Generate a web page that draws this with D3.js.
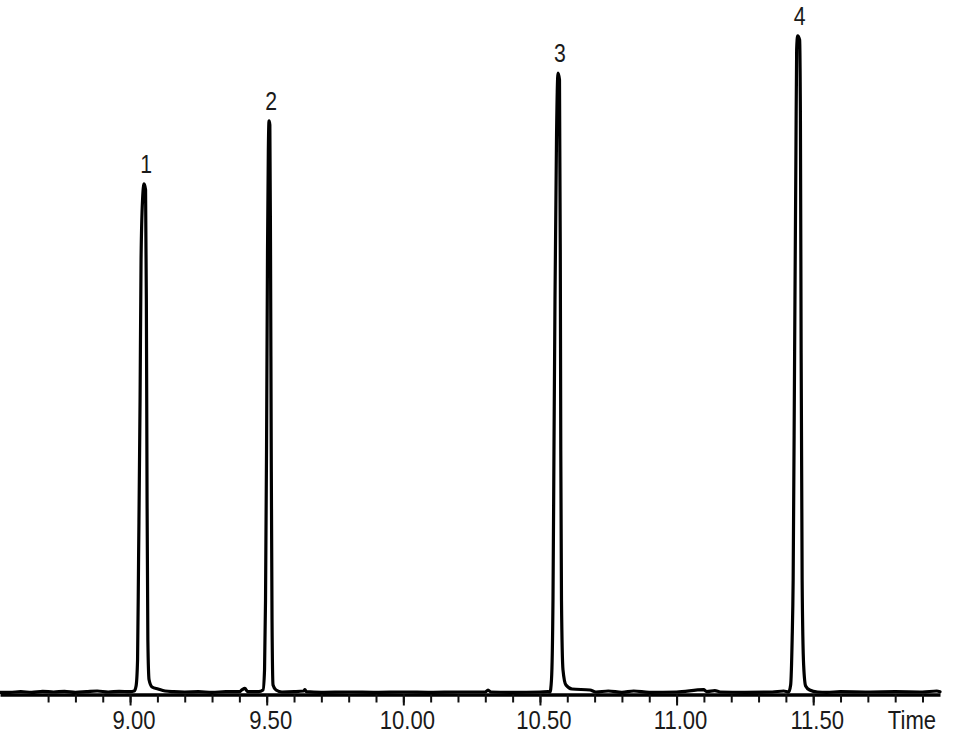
<!DOCTYPE html>
<html>
<head>
<meta charset="utf-8">
<script src="https://cdn.jsdelivr.net/npm/d3@7"></script>
<style>
  html, body { margin: 0; padding: 0; background: #fff; }
  svg { display: block; }
  text { font-family: "Liberation Sans", Arial, sans-serif; fill: #1a1a1a; }
</style>
</head>
<body>
<svg id="chart" width="974" height="737"></svg>
<script>
// ---- Data ----
const traceTime = [
  8.524, 8.56, 8.60, 8.64, 8.68, 8.72, 8.76, 8.80, 8.84, 8.88, 8.92, 8.96, 9.00, 9.015,
  9.022, 9.0274, 9.0311, 9.0366, 9.0402, 9.0457, 9.0512, 9.0567, 9.0596, 9.0622, 9.0651, 9.0695, 9.0805, 9.1024, 9.128,
  9.16, 9.20, 9.25, 9.30, 9.35, 9.40, 9.41, 9.42, 9.43, 9.47,
  9.4866, 9.4921, 9.4957, 9.4994, 9.5030, 9.506, 9.5086, 9.5115, 9.5140, 9.5166, 9.5195, 9.5232, 9.534, 9.556,
  9.60, 9.635, 9.64, 9.645, 9.70, 9.80, 9.90, 10.00, 10.10, 10.20, 10.30, 10.31, 10.32, 10.40, 10.50, 10.53,
  10.5367, 10.5422, 10.5477, 10.5513, 10.555, 10.5605, 10.566, 10.5715, 10.5744, 10.5762, 10.5788, 10.5843, 10.5952, 10.6172, 10.683, 10.705,
  10.75, 10.80, 10.843, 10.90, 11.00, 11.099, 11.11, 11.14, 11.16, 11.25, 11.35, 11.392,
  11.4101, 11.4174, 11.4229, 11.4266, 11.432, 11.4368, 11.4394, 11.443, 11.4503, 11.4532, 11.4558, 11.4595, 11.465, 11.4723, 11.487, 11.5163,
  11.55, 11.60, 11.70, 11.80, 11.90, 11.952, 11.964
];
const traceSignal = [
  0.1, 0.1, 0.2, 0.1, 0.25, 0.15, 0.25, 0.1, 0.2, 0.3, 0.15, 0.25, 0.2, 0.3,
  1.06, 4.98, 20.1, 44.2, 65.3, 74.4, 76.8, 75.9, 59.3, 29.1, 8.0, 2.0, 0.9, 0.6, 0.3,
  0.2, 0.15, 0.2, 0.1, 0.2, 0.2, 0.5, 0.7, 0.2, 0.2,
  0.45, 3.5, 14.0, 36.7, 66.8, 81.9, 86.3, 85.7, 66.8, 36.7, 11.0, 1.2, 0.45, 0.15,
  0.2, 0.3, 0.5, 0.2, 0.1, 0.15, 0.1, 0.15, 0.1, 0.15, 0.15, 0.45, 0.15, 0.1, 0.15, 0.2,
  0.15, 2.0, 14.0, 36.7, 59.3, 83.4, 93.5, 92.5, 66.8, 36.7, 14.0, 3.5, 1.2, 0.6, 0.45, 0.15,
  0.3, 0.1, 0.3, 0.1, 0.15, 0.5, 0.2, 0.35, 0.15, 0.1, 0.15, 0.3,
  0.15, 1.2, 8.0, 17.0, 51.7, 81.9, 97.0, 99.1, 98.5, 86.4, 51.7, 17.0, 4.2, 1.06, 0.45, 0.15,
  0.1, 0.2, 0.15, 0.2, 0.15, 0.3, 0.2
];
const peakNames = ["1", "2", "3", "4"];
const peakTimes = [9.0512, 9.5086, 10.566, 11.443];
const peakHeights = [76.8, 86.3, 93.5, 99.1];
const majorTicks = [9.0, 9.5, 10.0, 10.5, 11.0, 11.5];
const majorTickLabels = ["9.00", "9.50", "10.00", "10.50", "11.00", "11.50"];
const minorTicks = d3.range(87, 120).map(v => v / 10);
const axisTitle = "Time";
const timeDomain = [8.524, 11.964];
const signalDomain = [0, 100];

// ---- Drawing ----
const svg = d3.select("#chart");
const x = d3.scaleLinear().domain(timeDomain).range([0, 940]);
const y = d3.scaleLinear().domain(signalDomain).range([693, 30]);
const axisY = 694.5;
const narrow = 0.85;

// minor ticks
const minorAxis = d3.axisBottom(x).tickValues(minorTicks).tickSize(8).tickSizeOuter(0).tickFormat("");
const gMinor = svg.append("g").attr("transform", `translate(0,${axisY})`).call(minorAxis);
gMinor.select(".domain").attr("stroke", "#000").attr("stroke-width", 3.4);
gMinor.selectAll(".tick line").attr("stroke", "#111").attr("stroke-width", 2);

// major ticks
const majorAxis = d3.axisBottom(x).tickValues(majorTicks).tickSize(11).tickSizeOuter(0).tickFormat("");
const gMajor = svg.append("g").attr("transform", `translate(0,${axisY})`).call(majorAxis);
gMajor.select(".domain").remove();
gMajor.selectAll(".tick line").attr("stroke", "#111").attr("stroke-width", 2);

// tick labels (narrow font look via horizontal scaling)
svg.append("g").selectAll("text").data(majorTicks).join("text")
  .attr("transform", d => `translate(${x(d) + 4},729) scale(${narrow},1)`)
  .attr("text-anchor", "middle")
  .attr("font-size", 26)
  .text((d, i) => majorTickLabels[i]);

svg.append("text")
  .attr("transform", `translate(912,729) scale(${narrow},1)`)
  .attr("text-anchor", "middle")
  .attr("font-size", 26)
  .text(axisTitle);

// trace
const pts = traceTime.map((t, i) => [t, traceSignal[i]]);
const line = d3.line().x(d => x(d[0])).y(d => y(d[1])).curve(d3.curveMonotoneX);
svg.append("path")
  .attr("d", line(pts))
  .attr("fill", "none")
  .attr("stroke", "#000")
  .attr("stroke-width", 3.2)
  .attr("stroke-linejoin", "round")
  .attr("stroke-linecap", "round");

// peak labels
svg.append("g").selectAll("text").data(peakTimes).join("text")
  .attr("transform", (d, i) => `translate(${x(d) + 2},${y(peakHeights[i]) - 11}) scale(${narrow},1)`)
  .attr("text-anchor", "middle")
  .attr("font-size", 25)
  .text((d, i) => peakNames[i]);
</script>
</body>
</html>
